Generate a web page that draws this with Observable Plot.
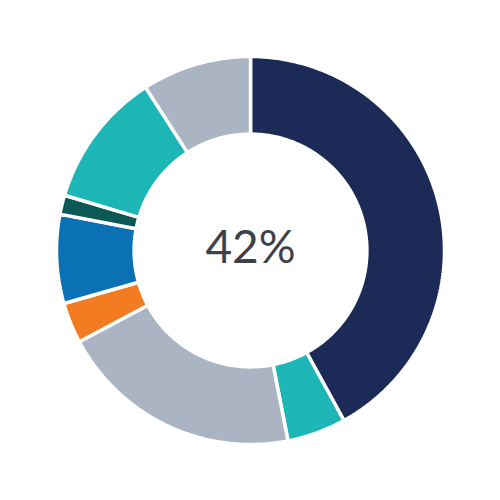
<!DOCTYPE html>
<html>
<head>
<meta charset="utf-8">
<script src="https://cdn.jsdelivr.net/npm/d3@7"></script>
<script src="https://cdn.jsdelivr.net/npm/@observablehq/plot@0.6"></script>
<style>
  html, body { margin: 0; padding: 0; background: #fff; }
  #chart { width: 500px; height: 500px; }
</style>
</head>
<body>
<div id="chart"></div>
<script>
// Data (clockwise from 12 o'clock)
const categories = ["Segment A", "Segment B", "Segment C", "Segment D", "Segment E", "Segment F", "Segment G", "Segment H"];
const values = [42, 4.9, 20.3, 3.4, 7.4, 1.6, 11.3, 9.1];
const colors = ["#1c2a58", "#1db6b6", "#aab4c2", "#f37b21", "#0a71b4", "#0b5855", "#1db6b6", "#aab4c2"];
const centerLabel = ["42%"];

const innerRatio = 0.6;

const pie = d3.pie().sort(null).value(d => d.value).startAngle(0).endAngle(2 * Math.PI);
const arcs = pie(categories.map((c, i) => ({category: c, value: values[i]})));

function ring(a0, a1, r0, r1) {
  const n = Math.max(8, Math.ceil((a1 - a0) / (Math.PI / 180)));
  const pts = [];
  for (let k = 0; k <= n; k++) {
    const a = a0 + (a1 - a0) * k / n;
    pts.push([r1 * Math.sin(a), r1 * Math.cos(a)]);
  }
  for (let k = n; k >= 0; k--) {
    const a = a0 + (a1 - a0) * k / n;
    pts.push([r0 * Math.sin(a), r0 * Math.cos(a)]);
  }
  pts.push(pts[0]);
  return pts;
}

const features = arcs.map(a => ({
  type: "Feature",
  properties: {category: a.data.category, value: a.data.value},
  geometry: {type: "Polygon", coordinates: [ring(a.startAngle, a.endAngle, innerRatio, 1)]}
}));

const chart = Plot.plot({
  width: 500,
  height: 500,
  margin: 0,
  projection: {
    type: "reflect-y",
    domain: {type: "MultiPoint", coordinates: [[-1, -1], [1, 1]]},
    inset: 56
  },
  color: {domain: categories, range: colors},
  marks: [
    Plot.geo(features, {
      fill: d => d.properties.category,
      stroke: "white",
      strokeWidth: 3.5,
      strokeLinejoin: "miter"
    }),
    Plot.text(centerLabel, {
      frameAnchor: "middle",
      text: d => d,
      fontSize: 46,
      fontFamily: "Lato, 'Open Sans', sans-serif",
      fontWeight: 400,
      fill: "#3d4149",
      dy: -2
    })
  ]
});

document.getElementById("chart").appendChild(chart);
</script>
</body>
</html>
